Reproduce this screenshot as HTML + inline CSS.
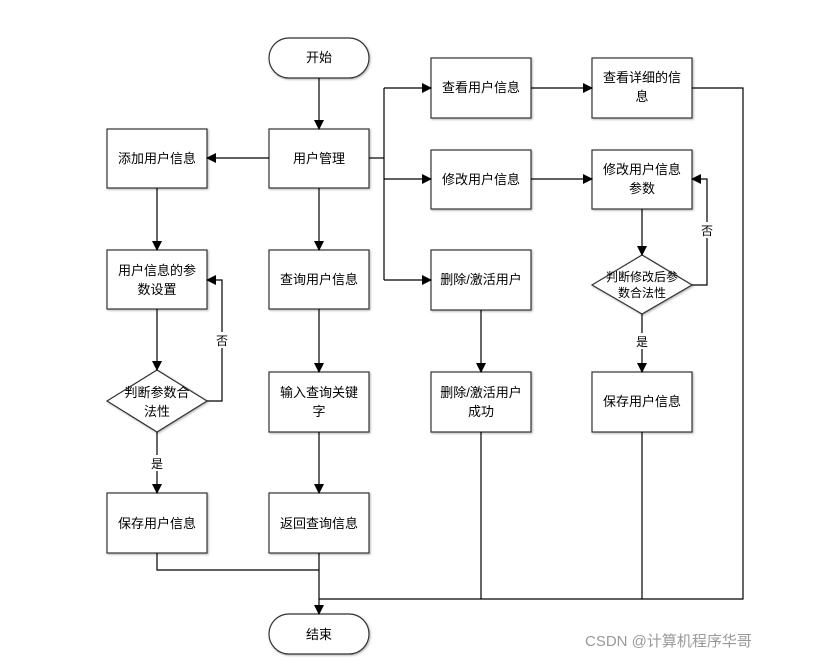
<!DOCTYPE html>
<html><head><meta charset="utf-8"><style>
body{margin:0;background:#fff;width:813px;height:661px;overflow:hidden}
text{font-family:"Liberation Sans","Noto Sans CJK SC",sans-serif;font-size:13px;fill:#000}
</style></head><body>
<svg width="813" height="661" xmlns="http://www.w3.org/2000/svg">
<defs><marker id="a" markerWidth="10" markerHeight="10" refX="9" refY="5" orient="auto" markerUnits="userSpaceOnUse"><path d="M0,0 L10,5 L0,10 z" fill="#000"/></marker>
<filter id="s"><feDropShadow dx="1" dy="1" stdDeviation="1" flood-opacity="0.3"/></filter></defs>
<g fill="#fff" stroke="#333" stroke-width="1.2" filter="url(#s)">
<rect x="269" y="38" width="100" height="40" rx="20"/>
<rect x="269" y="614" width="100" height="40" rx="20"/>
<rect x="269" y="129" width="100" height="59"/>
<rect x="107" y="129" width="100" height="59"/>
<rect x="107" y="250" width="100" height="59"/>
<polygon points="107,401 157,370 207,401 157,432"/>
<rect x="107" y="493" width="100" height="60"/>
<rect x="269" y="250" width="100" height="59"/>
<rect x="269" y="372" width="100" height="60"/>
<rect x="269" y="493" width="100" height="60"/>
<rect x="431" y="58" width="100" height="60"/>
<rect x="431" y="150" width="100" height="59"/>
<rect x="431" y="250" width="100" height="60"/>
<rect x="431" y="372" width="100" height="60"/>
<rect x="592" y="58" width="100" height="60"/>
<rect x="592" y="150" width="100" height="59"/>
<polygon points="592,285 642,255 692,285 642,314"/>
<rect x="592" y="372" width="100" height="60"/>
</g>
<g stroke="#000" stroke-width="1.2" fill="none">
<line x1="319" y1="78" x2="319" y2="129" marker-end="url(#a)"/>
<line x1="269" y1="158" x2="207" y2="158" marker-end="url(#a)"/>
<line x1="319" y1="188" x2="319" y2="250" marker-end="url(#a)"/>
<line x1="319" y1="309" x2="319" y2="372" marker-end="url(#a)"/>
<line x1="319" y1="432" x2="319" y2="493" marker-end="url(#a)"/>
<line x1="319" y1="553" x2="319" y2="614" marker-end="url(#a)"/>
<line x1="157" y1="188" x2="157" y2="250" marker-end="url(#a)"/>
<line x1="157" y1="309" x2="157" y2="370" marker-end="url(#a)"/>
<line x1="157" y1="432" x2="157" y2="493" marker-end="url(#a)"/>
<polyline points="207,401 222,401 222,280 207,280" marker-end="url(#a)"/>
<polyline points="157,553 157,570 319,570"/>
<polyline points="369,158 384,158"/>
<line x1="384" y1="88" x2="384" y2="280"/>
<line x1="384" y1="88" x2="431" y2="88" marker-end="url(#a)"/>
<line x1="384" y1="179" x2="431" y2="179" marker-end="url(#a)"/>
<line x1="384" y1="280" x2="431" y2="280" marker-end="url(#a)"/>
<line x1="531" y1="88" x2="592" y2="88" marker-end="url(#a)"/>
<line x1="531" y1="179" x2="592" y2="179" marker-end="url(#a)"/>
<line x1="481" y1="310" x2="481" y2="372" marker-end="url(#a)"/>
<line x1="642" y1="209" x2="642" y2="255" marker-end="url(#a)"/>
<polyline points="692,285 707,285 707,179 692,179" marker-end="url(#a)"/>
<line x1="642" y1="314" x2="642" y2="372" marker-end="url(#a)"/>
<polyline points="692,88 743,88 743,599 319,599"/>
<line x1="481" y1="432" x2="481" y2="599"/>
<line x1="642" y1="432" x2="642" y2="599"/>
</g>
<g text-anchor="middle">
<text x="319" y="62">开始</text>
<text x="319" y="639">结束</text>
<text x="319" y="163">用户管理</text>
<text x="157" y="163">添加用户信息</text>
<text x="157" y="275">用户信息的参</text><text x="157" y="294">数设置</text>
<text x="157" y="397">判断参数合</text><text x="157" y="416">法性</text>
<text x="157" y="528">保存用户信息</text>
<text x="319" y="284">查询用户信息</text>
<text x="319" y="397">输入查询关键</text><text x="319" y="416">字</text>
<text x="319" y="528">返回查询信息</text>
<text x="481" y="92">查看用户信息</text>
<text x="481" y="184">修改用户信息</text>
<text x="481" y="284">删除/激活用户</text>
<text x="481" y="397">删除/激活用户</text><text x="481" y="416">成功</text>
<text x="642" y="82">查看详细的信</text><text x="642" y="101">息</text>
<text x="642" y="174">修改用户信息</text><text x="642" y="193">参数</text>
<text x="642" y="281" style="font-size:12px">判断修改后参</text><text x="642" y="297" style="font-size:12px">数合法性</text>
<text x="642" y="406">保存用户信息</text>
</g>
<rect x="215" y="332" width="15" height="16" fill="#fff"/><text x="216" y="345" style="font-size:12px">否</text>
<rect x="700" y="222" width="15" height="16" fill="#fff"/><text x="701" y="235" style="font-size:12px">否</text>
<rect x="150" y="455" width="15" height="16" fill="#fff"/><text x="151" y="468" style="font-size:12px">是</text>
<rect x="635" y="333" width="15" height="16" fill="#fff"/><text x="636" y="346" style="font-size:12px">是</text>
<text x="585" y="646" style="font-size:15px;fill:#999">CSDN @计算机程序华哥</text>
</svg>
</body></html>
